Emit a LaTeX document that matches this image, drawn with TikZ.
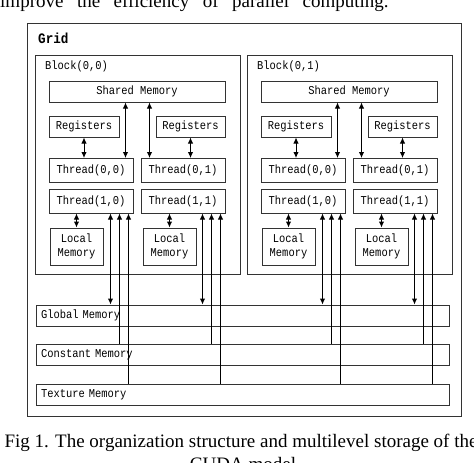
\documentclass[tikz,border=0pt]{standalone}
\usepackage{fontspec}
\setmainfont{Liberation Serif}
\setmonofont[FakeStretch=0.87]{Liberation Mono}
\usetikzlibrary{calc}
\usetikzlibrary{arrows.meta}

\begin{document}
\begin{tikzpicture}[x=1pt, y=-1pt,
  box/.style={draw=black!80, line width=1pt, inner sep=0pt, align=center, font=\fontsize{12}{14}\ttfamily},
  mem/.style={box, minimum height=21pt, text width=403pt, inner xsep=5pt, align=left},
  arr/.style={black, line width=1pt, -{Latex[length=6pt,width=5.5pt]}},
  both/.style={arr, {Latex[length=6pt,width=5.5pt]}-{Latex[length=6pt,width=5.5pt]}},
  captxt/.style={inner sep=0pt, anchor=base, font=\fontsize{19}{23}\selectfont}]
\useasboundingbox (0,0) rectangle (474,463);

\node[captxt, anchor=base west] (intro) at (0,7.5) {\spaceskip=13.5pt improve the efficiency of parallel computing.};

\node[box, minimum width=434pt, minimum height=393pt] (grid) at (244,219.5) {};
\node[anchor=base west, inner sep=0pt, font=\fontsize{14.5}{16}\ttfamily\bfseries] (gridlbl) at (38,43) {Grid};

\node[mem] (gm) at (242.5,315.5) {Global Memory};
\node[mem] (cm) at (242.5,354.5) {Constant Memory};
\node[mem] (xm) at (242.5,394.5) {Texture Memory};

\foreach \b [evaluate=\b as \dx using 212*\b] in {0,1} {
  \node[box, minimum width=205pt, minimum height=219pt] (blk\b) at (137.5+\dx,164.5) {};
  \node[anchor=base west, inner sep=0pt, font=\fontsize{12}{14}\ttfamily] (blklbl\b) at (45+\dx,69) {Block(0,\b)};
  \node[box, minimum width=176pt, minimum height=21pt] (sm\b) at (137+\dx,91.5) {Shared Memory};
  \node[box, minimum width=70pt, minimum height=21pt] (rl\b) at (84+\dx,126.5) {Registers};
  \node[box, minimum width=69pt, minimum height=21pt] (rr\b) at (190.5+\dx,126.5) {Registers};
  \node[box, minimum width=84pt, minimum height=24pt] (ta\b) at (91+\dx,170.5) {Thread(0,0)};
  \node[box, minimum width=84pt, minimum height=24pt] (tb\b) at (183+\dx,170.5) {Thread(0,1)};
  \node[box, minimum width=84pt, minimum height=24pt] (tc\b) at (91+\dx,201) {Thread(1,0)};
  \node[box, minimum width=84pt, minimum height=24pt] (td\b) at (183+\dx,201) {Thread(1,1)};
  \node[box, minimum width=53pt, minimum height=37pt] (la\b) at (76.5+\dx,246.5) {Local\\Memory};
  \node[box, minimum width=53pt, minimum height=37pt] (lb\b) at (169.5+\dx,246.5) {Local\\Memory};

  \coordinate (sa\b) at ([xshift=-8pt]ta\b.north east);
  \coordinate (sb\b) at ([xshift=9pt]tb\b.north west);
  \draw[both] (rl\b.south) -- (rl\b.south |- ta\b.north);
  \draw[both] (rr\b.south) -- (rr\b.south |- tb\b.north);
  \draw[both] (sa\b |- sm\b.south) -- (sa\b);
  \draw[both] (sb\b |- sm\b.south) -- (sb\b);
  \draw[both] (tc\b.south -| la\b.north) -- (la\b.north);
  \draw[both] (td\b.south -| lb\b.north) -- (lb\b.north);

  \foreach \t in {c,d} {
    \coordinate (g\t\b) at ([xshift=-23pt]t\t\b.south east);
    \coordinate (c\t\b) at ([xshift=-14pt]t\t\b.south east);
    \coordinate (x\t\b) at ([xshift=-5pt]t\t\b.south east);
    \draw[both] (g\t\b) -- (g\t\b |- gm.north);
    \draw[arr] (c\t\b |- cm.north) -- (c\t\b);
    \draw[arr] (x\t\b |- xm.north) -- (x\t\b);
  }
}

\node[captxt] (cap1) at (241,447) {Fig 1. The organization structure and multilevel storage of the};
\node[captxt] (cap2) at (243,470) {CUDA model};
\end{tikzpicture}
\end{document}
